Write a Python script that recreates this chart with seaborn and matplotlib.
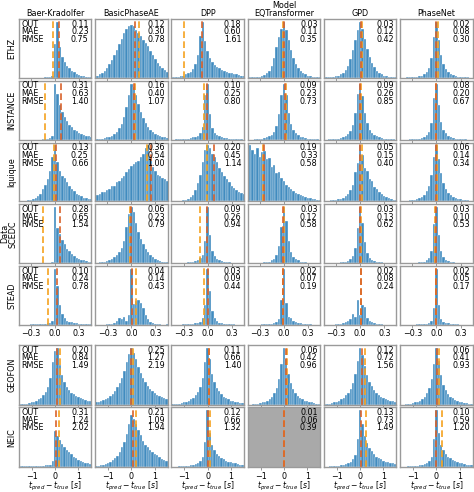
import numpy as np
import pandas as pd
import matplotlib
matplotlib.use("Agg")
import matplotlib.pyplot as plt
import seaborn as sns

models = ["Baer-Kradolfer", "BasicPhaseAE", "DPP", "EQTransformer", "GPD", "PhaseNet"]
datasets = ["ETHZ", "INSTANCE", "Iquique", "SCEDC", "STEAD", "GEOFON", "NEIC"]

# bin edges: regional data sets (top 5 rows) and teleseismic (bottom 2 rows)
edges_reg = np.linspace(-0.465, 0.465, 32)
edges_tele = np.linspace(-1.55, 1.55, 32)

# histogram heights (relative, 31 bins per panel)
hist_ethz = [
    [0,0,0,0,0,0,0,0,0,0,0,1,1,2,4,60,100,55,38,28,22,17,13,10,7,5,4,3,2,1,1],
    [3,4,6,9,13,18,24,32,40,50,60,70,80,88,93,95,92,86,80,75,68,62,56,48,40,33,27,22,18,14,11],
    [1,1,2,2,3,4,6,8,11,15,25,40,75,100,65,48,35,28,23,20,17,14,12,11,9,8,7,6,5,4,4],
    [0,1,1,1,2,2,3,5,8,13,22,35,55,72,88,100,85,68,50,36,25,17,12,8,6,4,3,2,2,1,1],
    [0,1,1,1,2,3,4,6,9,14,22,34,50,68,85,100,88,70,52,38,27,19,13,9,6,4,3,2,2,1,1],
    [0,0,0,1,1,1,2,2,3,4,6,10,17,35,72,100,68,40,24,15,10,7,5,3,2,2,1,1,1,0,0],
]
hist_instance = [
    [0,0,0,0,0,0,0,0,0,0,1,1,2,3,6,100,82,62,49,40,33,27,22,18,15,12,10,8,7,6,5],
    [1,1,2,2,3,4,5,7,10,14,20,28,40,58,80,100,94,80,64,50,39,30,23,17,13,10,8,6,5,4,3],
    [0,0,1,1,1,1,2,2,3,4,5,7,11,22,80,100,45,20,12,8,6,4,3,3,2,2,1,1,1,1,0],
    [0,0,0,1,1,1,2,3,4,6,9,14,24,45,80,100,80,48,28,17,11,8,5,4,3,2,2,1,1,1,0],
    [0,0,1,1,1,2,2,3,5,7,10,16,27,48,82,100,78,48,29,18,12,8,6,4,3,2,2,1,1,1,0],
    [0,0,0,0,1,1,1,2,2,3,5,8,14,30,75,100,62,32,18,11,7,5,3,2,2,1,1,1,0,0,0],
]
hist_iquique = [
    [0,1,1,1,2,3,4,6,9,14,22,30,40,55,80,100,70,55,45,42,35,28,22,18,14,12,9,7,6,5,4],
    [10,12,13,16,17,21,22,27,28,34,36,42,45,53,57,64,66,71,73,80,84,95,100,80,62,54,47,45,41,40,37],
    [0,0,0,1,1,2,3,5,8,12,20,32,47,70,92,100,95,85,80,70,60,52,46,40,34,28,24,20,17,15,13],
    [80,100,92,85,95,80,88,90,75,78,62,65,50,52,42,36,30,25,22,18,15,13,11,9,8,7,6,5,4,3,3],
    [1,1,1,2,2,3,4,5,7,10,14,20,30,52,68,100,82,60,55,40,36,26,22,16,13,10,8,6,4,3,2],
    [0,1,1,1,2,2,3,4,6,8,12,18,28,48,80,100,75,50,33,22,15,11,8,6,5,4,3,2,2,1,1],
]
hist_scedc = [
    [0,0,0,0,0,0,0,0,0,0,0,0,1,1,3,100,62,52,42,34,26,21,17,13,10,8,6,5,4,3,3],
    [1,1,2,2,3,4,6,8,11,15,20,27,40,65,88,100,92,72,56,44,34,26,20,15,11,8,6,4,3,2,2],
    [0,0,0,1,1,1,1,2,2,3,4,6,9,15,40,100,50,22,12,8,6,4,3,2,2,1,1,1,1,0,0],
    [0,0,0,0,1,1,1,2,2,3,5,8,14,30,65,100,75,40,20,11,7,5,3,2,2,1,1,1,0,0,0],
    [0,0,0,0,1,1,1,2,2,3,4,7,12,28,62,100,72,38,19,10,6,4,3,2,2,1,1,1,0,0,0],
    [0,0,0,0,0,1,1,1,2,2,3,5,9,22,70,100,50,22,11,6,4,3,2,1,1,1,0,0,0,0,0],
]
hist_stead = [
    [0,0,0,0,0,1,1,1,1,1,2,2,3,4,8,100,70,35,20,12,8,6,5,4,3,2,2,1,1,1,1],
    [0,0,0,0,0,1,1,2,4,8,12,10,14,8,18,100,38,42,45,40,30,18,10,5,3,2,1,1,0,0,1],
    [0,0,0,0,0,1,1,1,2,2,3,4,6,12,35,100,60,25,12,7,4,3,2,2,1,1,1,0,0,0,0],
    [0,0,0,0,0,0,1,1,1,2,2,3,5,10,45,100,40,15,12,8,6,4,3,2,1,1,1,0,0,0,0],
    [0,0,0,0,0,1,1,2,3,5,8,10,20,15,45,18,35,32,12,8,5,3,2,1,1,0,0,0,0,0,0],
    [0,0,0,0,0,0,0,1,1,1,2,2,4,8,30,100,35,10,6,4,3,2,1,1,1,0,0,0,0,0,0],
]
hist_geofon = [
    [2,2,3,3,4,5,6,8,10,13,17,23,32,48,75,95,100,70,52,40,32,26,22,19,16,14,12,10,9,8,7],
    [5,6,7,9,11,13,16,20,25,31,39,48,60,75,90,100,92,80,67,56,47,40,34,29,25,21,18,16,14,12,11],
    [2,2,3,3,4,5,6,8,10,13,17,23,32,48,75,100,80,55,40,30,24,19,15,12,10,8,7,6,5,4,4],
    [1,1,2,2,3,4,5,6,8,11,15,21,30,45,72,100,80,55,38,28,21,16,13,10,8,7,6,5,4,3,3],
    [2,2,3,4,5,6,8,10,13,17,22,29,39,54,78,100,88,68,52,41,33,27,22,18,15,13,11,9,8,7,6],
    [1,1,2,2,3,4,5,6,8,11,15,21,30,45,72,100,78,52,36,26,20,15,12,9,7,6,5,4,4,3,3],
]
hist_neic = [
    [2,2,2,2,2,2,2,3,3,3,3,4,4,5,12,64,55,48,41,36,31,27,23,19,16,13,11,9,8,7,6],
    [3,3,4,5,6,8,10,13,16,20,27,35,45,58,75,92,85,75,65,56,47,40,35,31,27,24,21,18,15,13,11],
    [1,1,1,2,2,2,3,3,4,5,6,8,11,18,45,100,60,40,30,24,20,17,14,12,10,9,8,7,6,5,5],
    None,
    [1,1,2,2,2,3,3,4,5,6,8,10,14,22,50,100,75,55,42,34,28,23,19,16,14,12,10,9,8,7,6],
    [1,1,1,2,2,2,3,3,4,5,6,8,11,18,50,100,60,40,30,24,19,16,13,11,9,8,7,6,5,5,4],
]
hists = [hist_ethz, hist_instance, hist_iquique, hist_scedc, hist_stead, hist_geofon, hist_neic]

# scores per data set (rows) and model (columns)
out_score = [
    [0.11, 0.12, 0.18, 0.03, 0.03, 0.02],
    [0.31, 0.16, 0.10, 0.09, 0.09, 0.08],
    [0.13, 0.36, 0.20, 0.19, 0.05, 0.06],
    [0.28, 0.06, 0.09, 0.03, 0.03, 0.03],
    [0.10, 0.04, 0.03, 0.02, 0.02, 0.02],
    [0.20, 0.25, 0.11, 0.06, 0.12, 0.06],
    [0.31, 0.21, 0.12, 0.01, 0.13, 0.10],
]
mae_score = [
    [0.23, 0.30, 0.60, 0.11, 0.12, 0.08],
    [0.63, 0.40, 0.25, 0.23, 0.26, 0.20],
    [0.25, 0.54, 0.45, 0.33, 0.15, 0.14],
    [0.65, 0.23, 0.26, 0.12, 0.13, 0.10],
    [0.24, 0.14, 0.09, 0.07, 0.08, 0.05],
    [0.84, 1.27, 0.66, 0.42, 0.72, 0.41],
    [1.24, 1.09, 0.66, 0.06, 0.73, 0.59],
]
rmse_score = [
    [0.75, 0.78, 1.61, 0.35, 0.42, 0.30],
    [1.40, 1.07, 0.80, 0.73, 0.85, 0.67],
    [0.66, 1.00, 1.14, 0.58, 0.40, 0.34],
    [1.54, 0.79, 0.94, 0.58, 0.62, 0.53],
    [0.78, 0.43, 0.44, 0.19, 0.24, 0.17],
    [1.49, 2.19, 1.40, 0.96, 1.56, 0.93],
    [2.02, 1.94, 1.32, 0.39, 1.49, 1.20],
]
# mean (light) and median (dark) residuals, dashed lines
mean_res = [
    [-0.03, 0.10, -0.29, -0.01, 0.02, 0.02],
    [-0.125, 0.05, -0.04, 0.03, 0.015, -0.01],
    [-0.015, 0.19, -0.01, -0.26, 0.02, 0.005],
    [-0.155, -0.015, -0.10, 0.005, 0.01, -0.015],
    [-0.09, 0.06, -0.05, -0.01, 0.015, 0.0],
    [0.20, 0.05, 0.06, 0.14, 0.22, 0.11],
    [0.17, 0.20, 0.12, 0.0, 0.23, 0.25],
]
median_res = [
    [0.045, 0.04, -0.07, 0.0, 0.01, 0.0],
    [0.075, 0.035, -0.01, 0.01, 0.0, 0.0],
    [0.005, 0.25, 0.08, -0.25, 0.0, -0.005],
    [0.065, 0.0, -0.005, -0.01, 0.0, 0.0],
    [0.025, 0.01, 0.0, -0.01, 0.015, 0.0],
    [0.08, 0.0, 0.04, 0.07, 0.08, 0.03],
    [0.02, 0.05, 0.01, 0.0, 0.05, 0.0],
]

plt.rcParams['font.family'] = ['DejaVu Sans']
plt.rcParams['mathtext.fontset'] = 'dejavusans'
fs = 5.8
mean_color = "#f5a21f"
median_color = "#d9622b"

fig = plt.figure(figsize=(4.74, 4.92), dpi=100)
gs_top = fig.add_gridspec(5, 6, left=0.040, right=0.997, top=0.9614, bottom=0.3394,
                          wspace=0.055, hspace=0.05)
gs_bot = fig.add_gridspec(2, 6, left=0.040, right=0.997, top=0.2985, bottom=0.050,
                          wspace=0.055, hspace=0.035)

for i, dname in enumerate(datasets):
    tele = i >= 5
    edges = edges_tele if tele else edges_reg
    centers = (edges[:-1] + edges[1:]) / 2
    for j, mname in enumerate(models):
        ax = fig.add_subplot(gs_bot[i - 5, j] if tele else gs_top[i, j])
        counts = hists[i][j]
        if counts is None:
            ax.set_facecolor("#a9a9a9")
        else:
            df = pd.DataFrame({"res": centers, "n": counts})
            sns.histplot(data=df, x="res", weights="n", bins=list(edges), ax=ax,
                         color="#1f77b4", alpha=0.85, edgecolor="white", linewidth=0.25)
        ax.axvline(mean_res[i][j], ls="--", color=mean_color, lw=1.2, dashes=(4, 2))
        ax.axvline(median_res[i][j], ls="--", color=median_color, lw=1.2, dashes=(4, 2))

        if tele:
            ax.set_xlim(-1.55, 1.55)
        else:
            ax.set_xlim(-0.45, 0.45)
        ax.set_ylim(0, 105)
        ax.set_yticks([])
        ax.set_ylabel("")
        ax.set_xlabel("")
        if tele:
            ax.set_xticks([-1, 0, 1])
            ax.set_xticklabels(["\u22121", "0", "1"])
        else:
            ax.set_xticks([-0.3, 0.0, 0.3])
            ax.set_xticklabels(["\u22120.3", "0.0", "0.3"])
        show_lab = (i == 4) or (i == 6)
        ax.tick_params(axis="x", length=2, width=0.6, color="#888888", labelsize=fs,
                       pad=1.2, labelbottom=show_lab)
        for sp in ax.spines.values():
            sp.set_color("#9a9a9a")
            sp.set_linewidth(1.0)

        if j == 0:
            ax.text(0.03, 0.99, "OUT\nMAE\nRMSE", transform=ax.transAxes, ha="left", va="top",
                    fontsize=fs, linespacing=0.82)
            if dname == "SCEDC":
                ax.set_ylabel("Data\nSCEDC", fontsize=fs, labelpad=1, linespacing=0.9)
            else:
                ax.set_ylabel(dname, fontsize=fs, labelpad=2)
        ax.text(0.965, 0.99, f"{out_score[i][j]:.2f}\n{mae_score[i][j]:.2f}\n{rmse_score[i][j]:.2f}",
                transform=ax.transAxes, ha="right", va="top", fontsize=fs, linespacing=0.82)
        if i == 0:
            ax.set_title("Model\n" + mname if mname == "EQTransformer" else mname,
                         fontsize=fs, pad=2, linespacing=0.95)
        if i == 6:
            ax.set_xlabel(r"$t_{pred} - t_{true}\ [s]$", fontsize=5.6, labelpad=-0.5)

fig.savefig("out.png", dpi=100)
